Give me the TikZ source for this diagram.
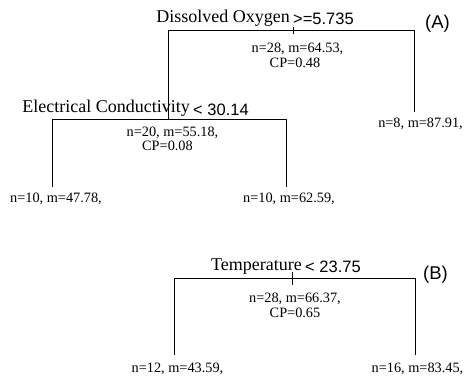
\documentclass[tikz,border=0pt]{standalone}
\usepackage{fontspec}
\setmainfont{Liberation Serif}
\newfontfamily\sansf{Liberation Sans}
\begin{document}
\begin{tikzpicture}[x=1pt,y=-1pt,
  line/.style={line width=1pt,black},
  big/.style={inner sep=0pt,font=\fontsize{18}{20}\selectfont},
  lab/.style={inner sep=0pt,font=\sansf\fontsize{16.5}{18}\selectfont},
  panel/.style={inner sep=0pt,font=\sansf\fontsize{18.5}{20}\selectfont},
  small/.style={inner sep=0pt,font=\fontsize{14.3}{16}\selectfont}]
\useasboundingbox (0,0) rectangle (474,380);
% ---------- tree A ----------
\node[big,anchor=base east] (doT) at (290,22) {Dissolved Oxygen};
\node[lab,anchor=base west] (doV) at (293,24) {>=5.735};
\node[panel,anchor=base west] (pA) at (425,28) {(A)};
\node[small,anchor=base] (doN) at (297.5,52) {n=28, m=64.53,};
\node[small,anchor=base] (doC) at (295,67) {CP=0.48};
\coordinate (aT) at (293,27);
\coordinate (aB) at (293,34);
\coordinate (aL) at (168,30);
\coordinate (aR) at (414,30);
\coordinate (ec) at (168,119);
\coordinate (r8) at (414,112);
\draw[line] (aT) -- (aB);
\draw[line] (aL) -- (aR);
\draw[line] (aL) -- (ec);
\draw[line] (aR) -- (r8);
\node[small,anchor=base] (n8) at (420.5,127) {n=8, m=87.91,};
\node[big,anchor=base east] (ecT) at (190,112) {Electrical Conductivity};
\node[lab,anchor=base west] (ecV) at (193,115) {< 30.14};
\node[small,anchor=base] (ecN) at (172.5,136) {n=20, m=55.18,};
\node[small,anchor=base] (ecC) at (167.5,150) {CP=0.08};
\coordinate (eL) at (52,119);
\coordinate (eR) at (286,119);
\coordinate (eLb) at (52,187);
\coordinate (eRb) at (286,187);
\draw[line] (eL) -- (eR);
\draw[line] (eL) -- (eLb);
\draw[line] (eR) -- (eRb);
\node[small,anchor=base] (n10a) at (56,202) {n=10, m=47.78,};
\node[small,anchor=base] (n10b) at (289,202) {n=10, m=62.59,};
% ---------- tree B ----------
\node[big,anchor=base east] (tT) at (302,270.5) {Temperature};
\node[lab,anchor=base west] (tV) at (305,272) {< 23.75};
\node[panel,anchor=base west] (pB) at (423,279) {(B)};
\node[small,anchor=base] (tN) at (295,302) {n=28, m=66.37,};
\node[small,anchor=base] (tC) at (295,317) {CP=0.65};
\coordinate (bT) at (292,272);
\coordinate (bB) at (292,285);
\coordinate (bL) at (174,278);
\coordinate (bR) at (415,278);
\coordinate (bLb) at (174,355);
\coordinate (bRb) at (415,355);
\draw[line] (bT) -- (bB);
\draw[line] (bL) -- (bR);
\draw[line] (bL) -- (bLb);
\draw[line] (bR) -- (bRb);
\node[small,anchor=base] (n12) at (177.5,372) {n=12, m=43.59,};
\node[small,anchor=base] (n16) at (417.5,372) {n=16, m=83.45,};
\end{tikzpicture}
\end{document}
